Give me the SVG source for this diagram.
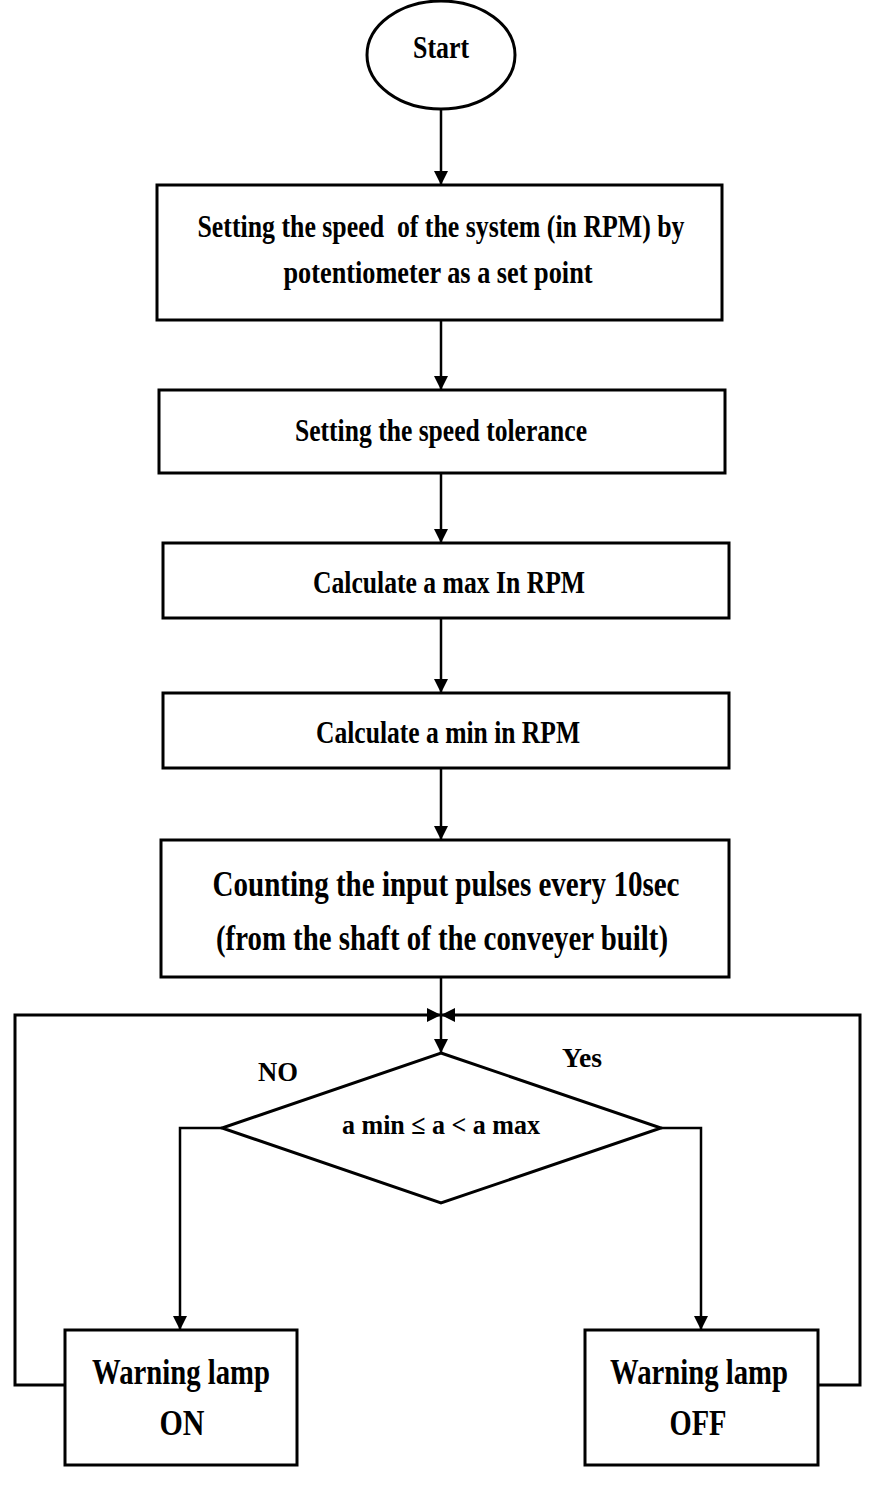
<svg xmlns="http://www.w3.org/2000/svg" width="882" height="1489" viewBox="0 0 882 1489">
<style>
.box{fill:#fff;stroke:#000;stroke-width:3}
.ln{fill:none;stroke:#000;stroke-width:2.5}
text{font-family:"Liberation Serif","Times New Roman",serif;font-weight:bold;fill:#000;text-anchor:middle}
.t{font-size:31px}
.tb{font-size:36px}
.ts{font-size:27px}
</style>
<defs>
<marker id="ah" viewBox="0 0 14 22" refX="14" refY="11" markerWidth="14" markerHeight="22" markerUnits="userSpaceOnUse" orient="auto">
<path d="M0,4 L14,11 L0,18 Z" fill="#000"/>
</marker>
</defs>
<rect width="882" height="1489" fill="#fff"/>
<g id="connectors">
<line class="ln" x1="441" y1="110" x2="441" y2="185" marker-end="url(#ah)"/>
<line class="ln" x1="441" y1="320" x2="441" y2="390" marker-end="url(#ah)"/>
<line class="ln" x1="441" y1="473" x2="441" y2="543" marker-end="url(#ah)"/>
<line class="ln" x1="441" y1="618" x2="441" y2="693" marker-end="url(#ah)"/>
<line class="ln" x1="441" y1="768" x2="441" y2="840" marker-end="url(#ah)"/>
<line class="ln" x1="441" y1="977" x2="441" y2="1053" marker-end="url(#ah)"/>
<polyline class="ln" points="222,1128 180,1128 180,1330" marker-end="url(#ah)"/>
<polyline class="ln" points="661,1128 701,1128 701,1330" marker-end="url(#ah)"/>
<polyline class="ln" style="stroke-width:3" points="65,1385 15,1385 15,1015 441,1015" marker-end="url(#ah)"/>
<polyline class="ln" style="stroke-width:3" points="818,1385 860,1385 860,1015 441,1015" marker-end="url(#ah)"/>
</g>
<g id="start">
<ellipse class="box" cx="441" cy="55" rx="74" ry="54"/>
<text class="t" x="441" y="58" textLength="56" lengthAdjust="spacingAndGlyphs">Start</text>
</g>
<g id="set-speed">
<rect class="box" x="157" y="185" width="565" height="135"/>
<text class="t" x="441" y="237" textLength="487" lengthAdjust="spacingAndGlyphs" xml:space="preserve">Setting the speed  of the system (in RPM) by</text>
<text class="t" x="438" y="283" textLength="309" lengthAdjust="spacingAndGlyphs">potentiometer as a set point</text>
</g>
<g id="tolerance">
<rect class="box" x="159" y="390" width="566" height="83"/>
<text class="t" x="441" y="441" textLength="292" lengthAdjust="spacingAndGlyphs">Setting the speed tolerance</text>
</g>
<g id="calc-max">
<rect class="box" x="163" y="543" width="566" height="75"/>
<text class="t" x="449" y="593" textLength="272" lengthAdjust="spacingAndGlyphs">Calculate a max In RPM</text>
</g>
<g id="calc-min">
<rect class="box" x="163" y="693" width="566" height="75"/>
<text class="t" x="448" y="743" textLength="264" lengthAdjust="spacingAndGlyphs">Calculate a min in RPM</text>
</g>
<g id="counting">
<rect class="box" x="161" y="840" width="568" height="137"/>
<text class="tb" x="446" y="896" textLength="467" lengthAdjust="spacingAndGlyphs">Counting the input pulses every 10sec</text>
<text class="tb" x="442" y="950" textLength="452" lengthAdjust="spacingAndGlyphs">(from the shaft of the conveyer built)</text>
</g>
<g id="decision">
<polygon class="box" points="441,1053 661,1128 441,1203 222,1128"/>
<text class="ts" x="441" y="1134" textLength="198" lengthAdjust="spacingAndGlyphs">a min ≤ a &lt; a max</text>
</g>
<g id="labels">
<text class="ts" x="278" y="1081" textLength="40" lengthAdjust="spacingAndGlyphs">NO</text>
<text class="ts" x="582" y="1067" textLength="40" lengthAdjust="spacingAndGlyphs">Yes</text>
</g>
<g id="lamp-on">
<rect class="box" x="65" y="1330" width="232" height="135"/>
<text class="tb" x="181" y="1384" textLength="178" lengthAdjust="spacingAndGlyphs">Warning lamp</text>
<text class="tb" x="182" y="1435" textLength="45" lengthAdjust="spacingAndGlyphs">ON</text>
</g>
<g id="lamp-off">
<rect class="box" x="585" y="1330" width="233" height="135"/>
<text class="tb" x="699" y="1384" textLength="178" lengthAdjust="spacingAndGlyphs">Warning lamp</text>
<text class="tb" x="698" y="1435" textLength="57" lengthAdjust="spacingAndGlyphs">OFF</text>
</g>
</svg>
